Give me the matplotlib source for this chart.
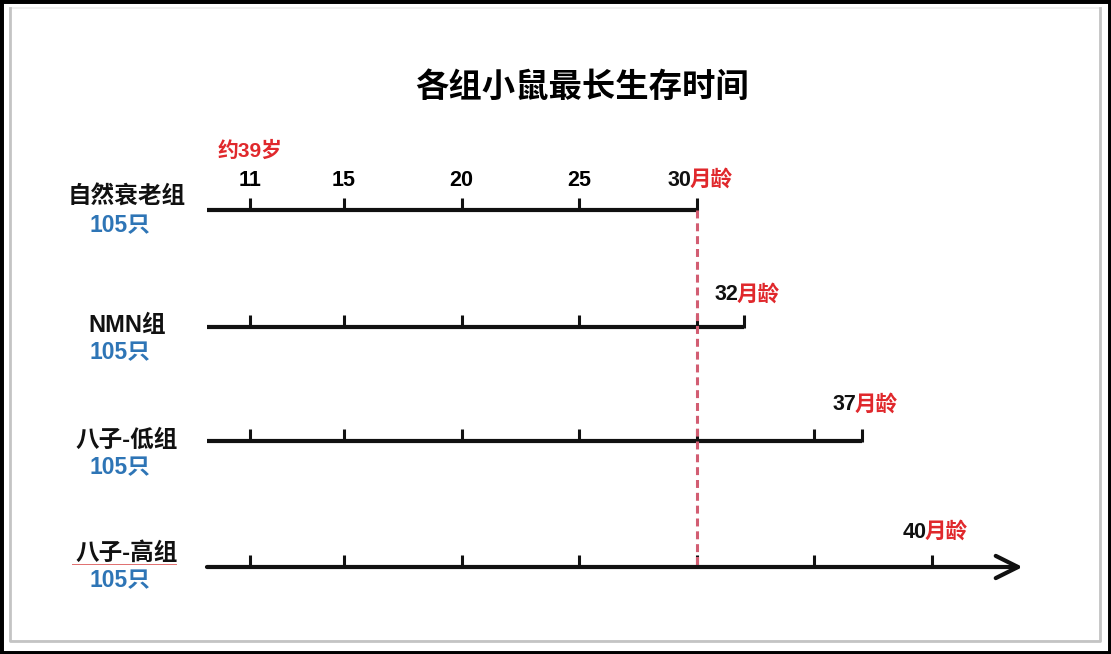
import matplotlib.pyplot as plt
from matplotlib.patches import Rectangle
from matplotlib.lines import Line2D

plt.rcParams['font.family'] = ['Liberation Sans', 'Noto Sans CJK SC', 'DejaVu Sans']

# data
title = '各组小鼠最长生存时间'
groups = ['自然衰老组', 'NMN组', '八子-低组', '八子-高组']
counts = [105, 105, 105, 105]
max_age = [30, 32, 37, 40]          # 最长生存时间 (月龄)
tick_months = [11, 15, 20, 25, 30, 35, 40]
top_labels = ['11', '15', '20', '25']
human_note = '约39岁'
ref_month = 30

# layout (pixels)
W, H = 1111, 654
line_y = [210, 327, 441, 567]
name_y = [197, 325, 440, 553]
count_y = [226, 353, 468, 581]
end_dy = [-30, -32, -36, -35]
start_month = 9.17
arrow_end = 43.85

BLACK = '#111111'
RED = '#e0282c'
BLUE = '#2e75b6'
DASH = '#d25d72'


def px2m(px):
    return 11 + (px - 250) / 23.52


fig = plt.figure(figsize=(W / 100, H / 100), dpi=100)
ax = fig.add_axes([0, 0, 1, 1])
ax.set_xlim(px2m(0), px2m(W))
ax.set_ylim(H, 0)
ax.axis('off')

ax.text(px2m(582), 88, title, ha='center', va='center', fontsize=24, fontweight='bold')

last = len(groups) - 1
for i, (g, n, end) in enumerate(zip(groups, counts, max_age)):
    y = line_y[i]
    if i == last:
        ax.annotate('', xy=(arrow_end, y), xytext=(start_month, y),
                    arrowprops=dict(arrowstyle='->', lw=3, color=BLACK,
                                    mutation_scale=40, shrinkA=0, shrinkB=0))
        ticks = [t for t in tick_months if t <= end]
    else:
        ax.plot([start_month, end], [y, y], color=BLACK, lw=3, solid_capstyle='butt')
        ticks = [t for t in tick_months if t < end] + [end]
    ax.vlines(ticks, y - 12, y + 1, color=BLACK, lw=2.2)

    # end label: number + 月龄
    ax.text(end - 0.22, y + end_dy[i], str(end), ha='right', va='center',
            fontsize=15.5, fontweight='bold', color=BLACK)
    ax.text(end - 0.3, y + end_dy[i], '月龄', ha='left', va='center',
            fontsize=15.5, fontweight='bold', color=RED)

    ax.text(px2m(127), name_y[i], g, ha='center', va='center',
            fontsize=17, fontweight='bold', color=BLACK)
    ax.text(px2m(120), count_y[i], f'{n}只', ha='center', va='center',
            fontsize=16.5, fontweight='bold', color=BLUE)

# tick labels above first timeline
for t, lab in zip(tick_months, top_labels):
    ax.text(t, 180, lab, ha='center', va='center', fontsize=15.5, fontweight='bold')
ax.text(tick_months[0], 151, human_note, ha='center', va='center',
        fontsize=15, fontweight='bold', color=RED)

# reference line at 30 months
ax.vlines(ref_month, line_y[0], line_y[-1], color=DASH, lw=2.2,
          linestyles=(0, (2.6, 1.6)), zorder=3)

# spell-check underline under last group name
ax.plot([px2m(72), px2m(176)], [564, 564], color='#d84a4a', lw=0.7, alpha=0.8)

# slide frame with soft shadow
fig.add_artist(Rectangle((10 / W, 1 - 641 / H), 1090 / W, 633 / H, transform=fig.transFigure,
                         fill=False, ec='#ececec', lw=1.2))
l, r, t, b = 10 / W, 1100 / W, 1 - 8 / H, 1 - 641 / H
fig.add_artist(Line2D([l, l, r, r], [t, b, b, t], transform=fig.transFigure,
                      color='#c4c4c4', lw=2))
fig.add_artist(Rectangle((0, 0), 1, 1, transform=fig.transFigure,
                         fill=False, ec='black', lw=5))

fig.savefig('out.png', dpi=100)
